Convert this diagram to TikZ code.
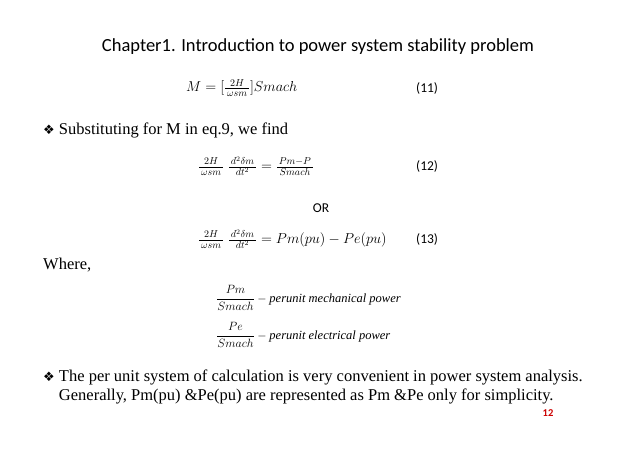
\documentclass[tikz,border=0pt]{standalone}
\usepackage{amsmath}
\usepackage{fontspec}
\setmainfont{Liberation Serif}
\newfontfamily\calib{Carlito}
\newfontfamily\dejavu{DejaVu Sans}
\tikzset{
  eqn/.style={anchor=west,inner sep=0,font=\fontsize{14.5}{17}\selectfont},
  eqno/.style={anchor=west,inner sep=0,font=\calib\fontsize{13.5}{15}\selectfont},
  body/.style={anchor=west,inner sep=0,font=\fontsize{16.5}{19}\selectfont,align=left},
}
\newcommand{\bul}{{\dejavu\fontsize{13}{14}\selectfont ❖}\ }
\newcommand{\sfr}[2]{\genfrac{}{}{}{1}{\,#1\,}{\,#2\,}}
\begin{document}
\begin{tikzpicture}[x=1pt,y=-1pt]
\useasboundingbox (0,0) rectangle (638,451);
\node[inner sep=0,font=\calib\fontsize{18.5}{20}\selectfont] (title) at (318,47) {Chapter1. Introduction to power system stability problem};
\node[eqn] (eq11) at (186,88) {$M=[\sfr{2H}{\omega sm}]Smach$};
\node[eqno] (n11) at (416,88) {(11)};
\node[body] (subst) at (43,130) {\bul Substituting for M in eq.9, we find};
\node[eqn] (eq12) at (198,166) {$\sfr{2H}{\omega sm}\;\sfr{d^2\delta m}{dt^2}=\sfr{Pm-P}{Smach}$};
\node[eqno] (n12) at (416,166) {(12)};
\node[inner sep=0,font=\calib\fontsize{13.5}{15}\selectfont] (or) at (321,208) {OR};
\node[eqn] (eq13) at (198,239) {$\sfr{2H}{\omega sm}\;\sfr{d^2\delta m}{dt^2}=Pm(pu)-Pe(pu)$};
\node[eqno] (n13) at (416,239) {(13)};
\node[body] (where) at (43,265) {Where,};
\node[eqn,font=\fontsize{12.5}{15}\selectfont] (pm) at (216,298) {$\dfrac{Pm}{Smach}-\mathit{perunit\ mechanical\ power}$};
\node[eqn,font=\fontsize{12.5}{15}\selectfont] (pe) at (216,335) {$\dfrac{Pe}{Smach}-\mathit{perunit\ electrical\ power}$};
\node[body,anchor=north west] (unit) at (43,370) {\bul The per unit system of calculation is very convenient in power system analysis.\\
\phantom{\bul}Generally, Pm(pu) \&Pe(pu) are represented as Pm \&Pe only for simplicity.};
\node[inner sep=0,text=red!80!black,font=\calib\bfseries\fontsize{10.5}{12}\selectfont] (page) at (548,413) {12};
\end{tikzpicture}
\end{document}
